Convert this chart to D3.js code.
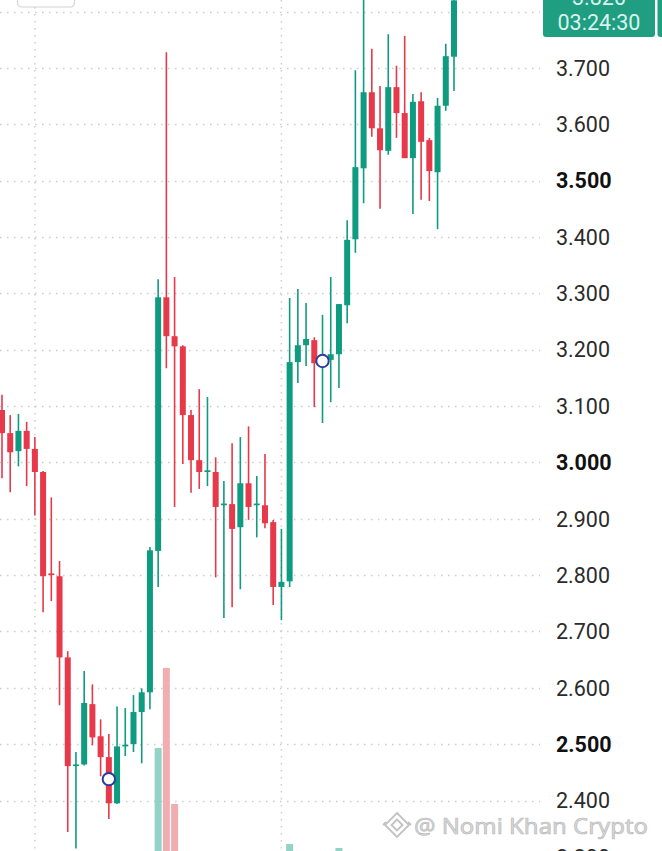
<!DOCTYPE html>
<html>
<head>
<meta charset="utf-8">
<script src="https://cdn.jsdelivr.net/npm/d3@7/dist/d3.min.js"></script>
<style>
  html, body { margin: 0; padding: 0; background: #ffffff; overflow: hidden; }
  svg { display: block; }
</style>
</head>
<body>
<svg id="chart" width="662" height="851"></svg>
<script>
// ---------------- DATA ----------------
const opens  = [3.093,3.052,3.020,3.056,3.024,2.983,2.803,2.798,2.654,2.461,2.464,2.571,2.514,2.477,2.395,2.496,2.500,2.557,2.592,2.843,
                3.293,3.224,3.206,3.084,3.004,2.983,2.983,2.924,2.926,2.885,2.963,2.924,2.924,2.894,2.779,2.789,3.178,3.208,3.217,3.178,
                3.182,3.192,3.279,3.396,3.522,3.657,3.593,3.553,3.666,3.620,3.540,3.641,3.572,3.515,3.633,3.720];
const highs  = [3.120,3.084,3.086,3.072,3.045,2.985,2.938,2.825,2.665,2.486,2.630,2.606,2.544,2.518,2.567,2.564,2.587,2.599,2.850,3.325,
                3.728,3.329,3.208,3.093,3.130,3.116,3.009,2.967,3.034,3.045,3.064,2.976,3.015,2.898,2.882,3.292,3.308,3.283,3.222,3.262,
                3.329,3.281,3.430,3.696,3.850,3.734,3.668,3.760,3.704,3.757,3.654,3.657,3.576,3.647,3.743,3.840];
const lows   = [2.972,2.947,2.993,2.958,2.906,2.734,2.754,2.569,2.344,2.315,2.462,2.498,2.443,2.367,2.394,2.479,2.486,2.466,2.562,2.779,
                3.167,2.921,2.997,2.946,2.953,2.958,2.796,2.724,2.743,2.775,2.898,2.867,2.883,2.747,2.720,2.779,3.141,3.171,3.098,3.070,
                3.107,3.132,3.247,3.372,3.460,3.578,3.450,3.546,3.576,3.540,3.441,3.466,3.464,3.414,3.624,3.659];
const closes = [3.052,3.018,3.056,3.024,2.983,2.798,2.800,2.654,2.461,2.464,2.573,2.512,2.477,2.395,2.496,2.499,2.557,2.592,2.844,3.293,
                3.224,3.206,3.084,3.004,2.983,2.986,2.921,2.927,2.882,2.963,2.921,2.927,2.892,2.779,2.788,3.178,3.208,3.219,3.176,3.185,
                3.192,3.281,3.395,3.524,3.657,3.593,3.554,3.666,3.620,3.540,3.640,3.569,3.517,3.633,3.721,3.820];
// volume (visible bars only tall enough to show at the bottom edge)
const volumes = [0.4,0.5,0.3,0.4,0.5,0.9,0.6,0.8,1.2,0.9,0.7,0.5,0.4,0.6,0.8,0.4,0.5,0.6,1.4,13.2,
                 21.2,7.6,1.8,1.2,0.9,0.7,1.0,0.9,0.8,0.7,0.6,0.5,0.4,0.9,1.1,3.6,1.4,0.9,0.8,1.0,
                 1.2,3.2,1.5,1.9,2.4,1.3,1.1,1.6,1.0,1.2,1.4,1.0,0.9,1.3,1.6,2.5];
const priceTicks = [2.3,2.4,2.5,2.6,2.7,2.8,2.9,3.0,3.1,3.2,3.3,3.4,3.5,3.6,3.7,3.8];
const boldTicks  = [2.5,3.0,3.5];
const timeGridIdx = [4, 34];
const markerIdx    = [13, 39];
const markerPrices = [2.438, 3.180];
const lastPrice = "3.820";
const countdown = "03:24:30";
const watermark = "@ Nomi Khan Crypto";

// ---------------- SCALES ----------------
const svg = d3.select("#chart");
const W = 662, H = 851;
const GREEN = "#0f9b7f", RED = "#e6394a";
const GREEN_VOL = "#93d3c6", RED_VOL = "#f1aeb0";

const y = d3.scaleLinear().domain([2.4, 3.7]).range([800.5, 68]);
const x = d3.scaleLinear().domain([0, 55]).range([2, 454]);
const vy = d3.scaleLinear().domain([0, 21.2]).range([880, 668]);

svg.append("rect").attr("width", W).attr("height", H).attr("fill", "#ffffff");

// ---------------- GRID ----------------
const grid = svg.append("g");
grid.selectAll("line.h").data(priceTicks).enter().append("line")
  .attr("x1", 0).attr("x2", 540)
  .attr("y1", d => Math.round(y(d)) + 0.5).attr("y2", d => Math.round(y(d)) + 0.5)
  .attr("stroke", "#cccccc").attr("stroke-width", 1.5).attr("stroke-dasharray", "1.5,5.5");
grid.selectAll("line.v").data(timeGridIdx).enter().append("line")
  .attr("x1", d => x(d)).attr("x2", d => x(d))
  .attr("y1", 0).attr("y2", H)
  .attr("stroke", "#cccccc").attr("stroke-width", 1.5).attr("stroke-dasharray", "1.5,5.5");

// ---------------- VOLUME ----------------
const candles = opens.map((o, i) => ({ i, o, h: highs[i], l: lows[i], c: closes[i], v: volumes[i] }));
svg.append("g").selectAll("rect").data(candles).enter().append("rect")
  .attr("x", d => x(d.i) - 3.5).attr("width", 7)
  .attr("y", d => vy(d.v)).attr("height", d => vy(0) - vy(d.v))
  .attr("fill", d => d.c >= d.o ? GREEN_VOL : RED_VOL);

// ---------------- CANDLES ----------------
const cg = svg.append("g").selectAll("g").data(candles).enter().append("g");
cg.append("line")
  .attr("x1", d => x(d.i)).attr("x2", d => x(d.i))
  .attr("y1", d => y(d.h)).attr("y2", d => y(d.l))
  .attr("stroke", d => d.c >= d.o ? GREEN : RED).attr("stroke-width", 1.6);
cg.append("rect")
  .attr("x", d => x(d.i) - 3).attr("width", 6)
  .attr("y", d => y(Math.max(d.o, d.c)))
  .attr("height", d => Math.max(1.6, Math.abs(y(d.o) - y(d.c))))
  .attr("fill", d => d.c >= d.o ? GREEN : RED);

// ---------------- MARKERS ----------------
svg.append("g").selectAll("circle").data(markerIdx).enter().append("circle")
  .attr("cx", d => x(d)).attr("cy", (d, k) => y(markerPrices[k]))
  .attr("r", 6.2).attr("fill", "#ffffff").attr("stroke", "#2c3d9c").attr("stroke-width", 2);

// ---------------- Y AXIS LABELS ----------------
svg.append("g").selectAll("text").data(priceTicks).enter().append("text")
  .attr("x", 556).attr("y", d => y(d)).attr("dy", "0.36em")
  .attr("font-family", "Roboto, 'Noto Sans', sans-serif")
  .attr("font-size", 21.5)
  .attr("font-weight", d => boldTicks.some(b => Math.abs(b - d) < 1e-6) ? 700 : 400)
  .attr("fill", d => boldTicks.some(b => Math.abs(b - d) < 1e-6) ? "#111111" : "#2b2b2b")
  .text(d => d.toFixed(3));

// ---------------- LAST PRICE LABEL ----------------
const lp = svg.append("g");
lp.append("path")
  .attr("d", "M543,-10 H655 V34 Q655,37 652,37 H546 Q543,37 543,34 Z")
  .attr("fill", "#1f9e82");
lp.append("rect").attr("x", 657.5).attr("y", -10).attr("width", 10).attr("height", 47).attr("rx", 3).attr("fill", "#1f9e82");
lp.append("text").attr("x", 599).attr("y", 5).attr("text-anchor", "middle")
  .attr("font-family", "Roboto, sans-serif").attr("font-size", 21.5).attr("fill", "#d9f3ea").text(lastPrice);
lp.append("text").attr("x", 599).attr("y", 29.5).attr("text-anchor", "middle")
  .attr("font-family", "Roboto, sans-serif").attr("font-size", 21.5).attr("fill", "#d9f3ea").text(countdown);

// top-left outlined box
svg.append("rect").attr("x", 17.5).attr("y", -20).attr("width", 57).attr("height", 27).attr("rx", 4)
  .attr("fill", "#ffffff").attr("stroke", "#d4d4d4").attr("stroke-width", 1.2);

// ---------------- WATERMARK ----------------
const wm = svg.append("g");
const lg = wm.append("g").attr("transform", "translate(397,825)")
  .attr("fill", "none").attr("stroke", "#c2c2c2").attr("stroke-width", 1.8);
lg.append("path").attr("d", "M0,-12 L12,0 L0,12 L-12,0 Z");
lg.append("path").attr("d", "M0,-5.5 L5.5,0 L0,5.5 L-5.5,0 Z");
lg.append("path").attr("d", "M-14,0 L-11,-3 M14,0 L11,-3");
wm.append("text").attr("x", 414).attr("y", 834)
  .attr("font-family", "'Noto Sans', 'Open Sans', sans-serif").attr("font-size", 22.5)
  .attr("textLength", 234).attr("lengthAdjust", "spacingAndGlyphs")
  .attr("fill", "#d6d6d6").attr("stroke", "#b8b8b8").attr("stroke-width", 0.6)
  .text(watermark);
</script>
</body>
</html>
